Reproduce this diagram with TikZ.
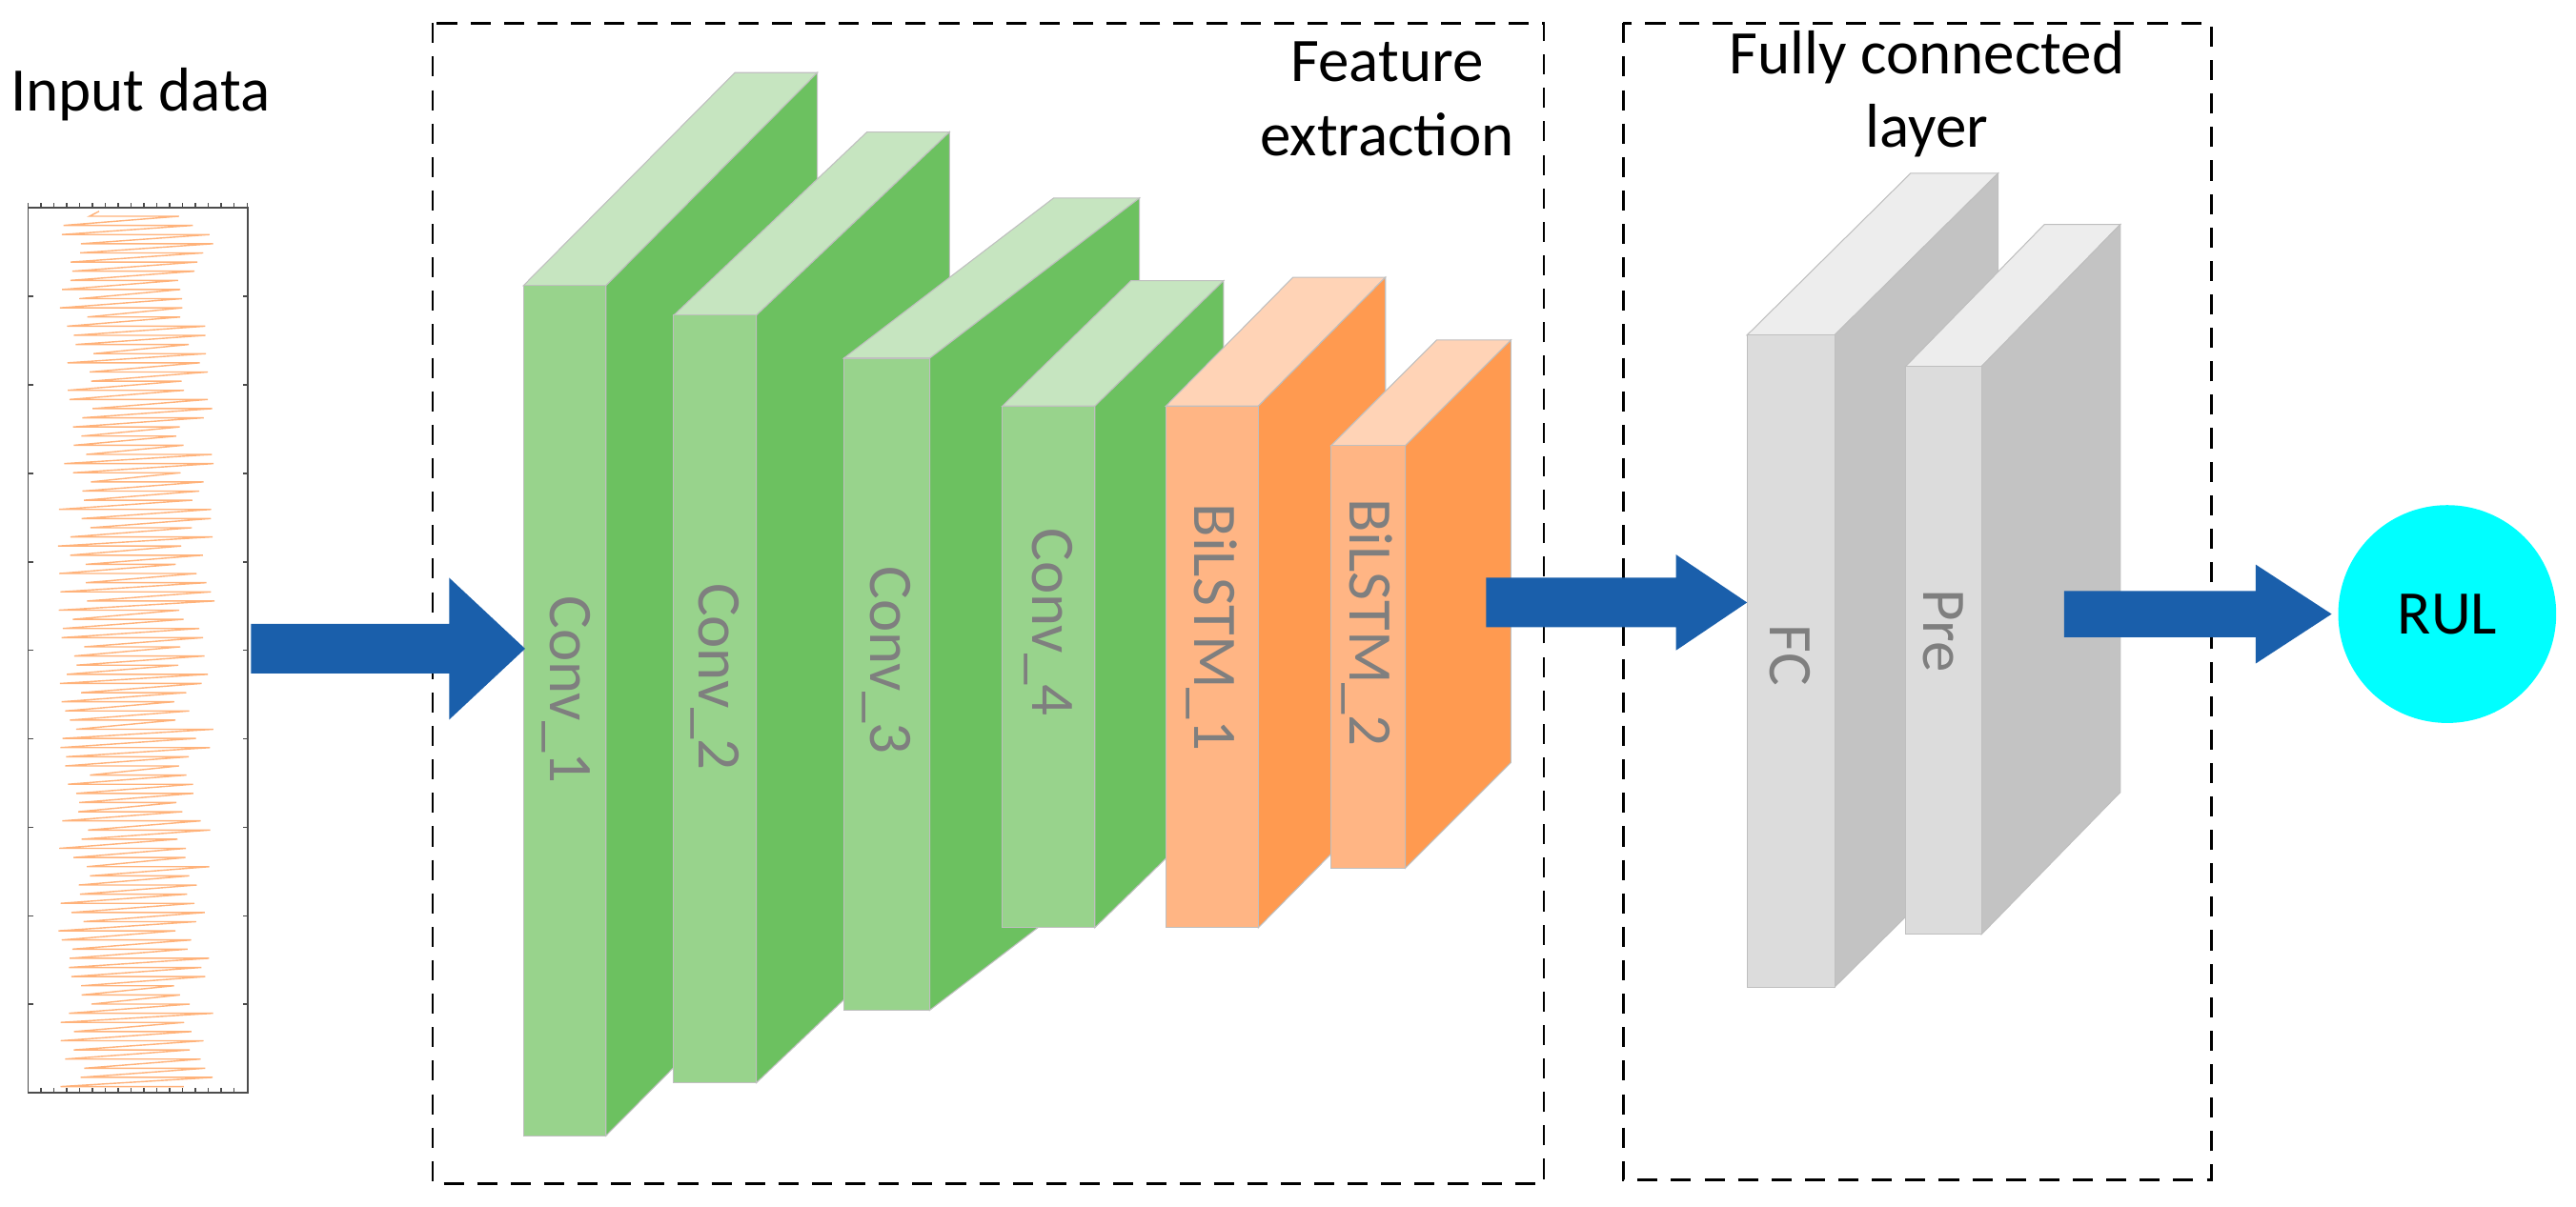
\documentclass[tikz,border=0pt]{standalone}
\usepackage{fontspec}
\setmainfont{Carlito}
\usetikzlibrary{calc}
\definecolor{gfront}{HTML}{98D38C}
\definecolor{gside}{HTML}{6CC160}
\definecolor{gtop}{HTML}{C6E5C0}
\definecolor{ofront}{HTML}{FFB584}
\definecolor{oside}{HTML}{FF9A50}
\definecolor{otop}{HTML}{FFD3B6}
\definecolor{wfront}{HTML}{DCDCDC}
\definecolor{wside}{HTML}{C3C3C3}
\definecolor{wtop}{HTML}{EDEDED}
\definecolor{arrblue}{HTML}{1A5FAB}
\definecolor{sig}{HTML}{FFB27A}
\definecolor{lbl}{HTML}{7F7F7F}
\definecolor{rulcyan}{HTML}{00FFFF}
\tikzset{
  face/.style={draw=black!25,line width=0.3pt},
  lab/.style={text=lbl,rotate=-90,font=\fontsize{18.5}{22}\selectfont},
  title/.style={align=center,font=\fontsize{18.5}{22}\selectfont},
  frame/.style={draw,dashed,line width=0.8pt,dash pattern=on 6pt off 4pt},
  blk/.style={fill=arrblue,draw=none}
}
% \layerbox{x1}{x2}{y1}{y2}{dx}{dy}{prefix}
\newcommand{\layerbox}[7]{%
  \fill[#7top,face] (#1,#3) -- ++(#5,#6) -- ($(#2,#3)+(#5,#6)$) -- (#2,#3) -- cycle;
  \fill[#7side,face] (#2,#3) -- ++(#5,#6) -- ($(#2,#4)+(#5,#6)$) -- (#2,#4) -- cycle;
  \fill[#7front,face] (#1,#3) rectangle (#2,#4);
}
% \blockarrow{x0}{x1}{x2}{yc}{half shaft}{half head}
\newcommand{\blockarrow}[6]{%
  \fill[blk] (#1,#4-#5) -- (#2,#4-#5) -- (#2,#4-#6) -- (#3,#4) -- (#2,#4+#6) -- (#2,#4+#5) -- (#1,#4+#5) -- cycle;
}
\begin{document}
\begin{tikzpicture}[x=0.01733cm,y=-0.01733cm]
  \useasboundingbox (0,0) rectangle (1560,731);

  % input data
  \node[title] (inp) at (85,57) {Input data};
  \pgfmathsetseed{7}
  \begin{scope}
    \clip (17,126) rectangle (150,662);
    \draw[sig,line width=0.4pt] (60,128)
      \foreach \i in {0,...,95} {
        \pgfextra{\pgfmathsetmacro{\yy}{131+\i*5.55}
          \pgfmathsetmacro{\xl}{35+22*rnd}
          \pgfmathsetmacro{\xr}{105+25*rnd}}
        -- (\xl,\yy) -- (\xr,\yy)
      };
  \end{scope}
  \draw[black!70,line width=0.5pt] (17,126) rectangle (150,662);
  \foreach \x in {17,24.8,...,150} {
    \draw[black!70,line width=0.4pt] (\x,126) -- (\x,123);
    \draw[black!70,line width=0.4pt] (\x,662) -- (\x,659);
  }
  \foreach \y in {126,179.6,...,662} {
    \draw[black!70,line width=0.4pt] (17,\y) -- (20,\y);
    \draw[black!70,line width=0.4pt] (150,\y) -- (147,\y);
  }

  % frames
  \draw[frame] (262,14) rectangle (935,717);
  \draw[frame] (983,14) rectangle (1339,715);
  \node[title] (fe) at (840,60) {Feature\\extraction};
  \node[title] (fc) at (1167,57) {Fully connected\\layer};

  % layers
  \layerbox{317}{367}{173}{688}{128}{-129}{g}
  \layerbox{408}{458}{191}{656}{117}{-111}{g}
  \layerbox{511}{563}{217}{612}{127}{-97}{g}
  \layerbox{607}{663}{246}{562}{78}{-76}{g}
  \layerbox{706}{762}{246}{562}{77}{-78}{o}
  \layerbox{806}{851}{270}{526}{64}{-64}{o}
  \layerbox{1058}{1111}{203}{598}{99}{-98}{w}
  \layerbox{1154}{1200}{222}{566}{84}{-86}{w}
  \node[lab] (c1) at (343,418) {Conv\_1};
  \node[lab] (c2) at (433,410) {Conv\_2};
  \node[lab] (c3) at (537,400) {Conv\_3};
  \node[lab] (c4) at (635,377) {Conv\_4};
  \node[lab] (b1) at (734,380) {BiLSTM\_1};
  \node[lab] (b2) at (828,377) {BiLSTM\_2};
  \node[lab] (f1) at (1084,397) {FC};
  \node[lab] (p1) at (1177,382) {Pre};

  % arrows
  \blockarrow{152}{272}{318}{393}{15}{43}
  \blockarrow{900}{1015}{1058}{365}{15}{29}
  \blockarrow{1250}{1366}{1412}{372}{14}{30}

  \node[circle,fill=rulcyan,minimum size=132*0.01733cm,inner sep=0pt,
        font=\fontsize{18.5}{22}\selectfont] (rul) at (1482,372) {RUL};
\end{tikzpicture}
\end{document}
